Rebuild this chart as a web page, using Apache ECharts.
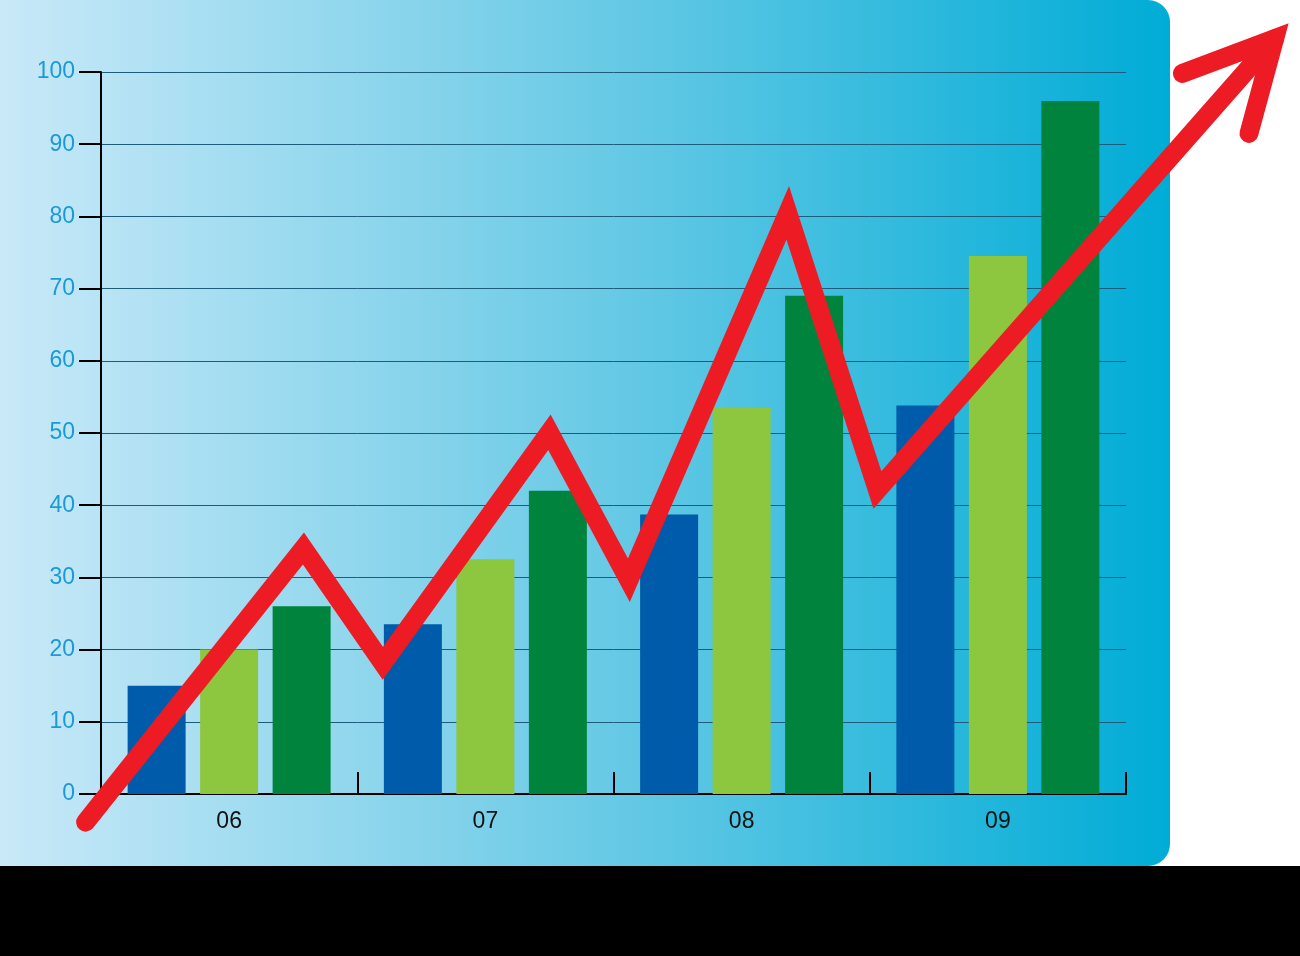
<!DOCTYPE html>
<html><head><meta charset="utf-8">
<script src="https://cdn.jsdelivr.net/npm/echarts@6/dist/echarts.min.js"></script>
<style>html,body{margin:0;padding:0;background:#fff}#c{width:1300px;height:956px}</style>
</head><body><div id="c"></div>
<script>
const categories = ['06','07','08','09'];
const seriesBlue = [15, 23.5, 38.7, 53.8];
const seriesLight = [20, 32.5, 53.5, 74.5];
const seriesDark = [26, 42, 69, 96];
// trend line in [category-unit, value] coordinates
const trendLine = [[-0.06,-3.9],[0.79,34],[1.10,18.1],[1.75,50.1],[2.06,29.6],[2.68,80.5],[3.03,42.1],[4.58,104.6]];
const arrowHead = [[4.22,99.8],[4.58,104.6],[4.48,91.5]];
const yTicks = [0,10,20,30,40,50,60,70,80,90,100];

const chart = echarts.init(document.getElementById('c'));
const barCommon = {type:'bar', barWidth:58, barGap:'25%', xAxisIndex:0, yAxisIndex:0, z:2};
chart.setOption({
  animation:false,
  graphic:[
    {type:'rect', shape:{x:0,y:0,width:1170,height:866,r:[0,22,22,0]}, z:-10,
     style:{fill:new echarts.graphic.LinearGradient(0,0,1,0,[{offset:0,color:'#c9e9f8'},{offset:0.5,color:'#6ccbe6'},{offset:1,color:'#00acd6'}])}},
    {type:'rect', shape:{x:0,y:866,width:1300,height:90}, z:-10, style:{fill:'#000'}}
  ],
  grid:[{left:101, right:174, top:72, bottom:162}, {left:0, right:0, top:0, bottom:0}],
  xAxis:[
    {type:'category', data:categories, gridIndex:0,
     axisLine:{lineStyle:{color:'#000',width:2}},
     axisTick:{show:true,inside:true,length:22,lineStyle:{color:'#000',width:2}},
     axisLabel:{color:'#111',fontSize:23,margin:16,fontFamily:'Liberation Sans'}},
    {type:'value', gridIndex:1, min:-101/256.25, max:1199/256.25, show:false}
  ],
  yAxis:[
    {type:'value', gridIndex:0, min:0, max:100, interval:10,
     axisLine:{show:true,lineStyle:{color:'#000',width:2}},
     axisTick:{show:true,length:22,lineStyle:{color:'#000',width:2}},
     axisLabel:{color:'#1a9ad6',fontSize:23,margin:26,fontFamily:'Liberation Sans',
       formatter:v=>yTicks.includes(v)?String(v):''},
     splitLine:{lineStyle:{color:'#1e5c7e',width:1}}},
    {type:'value', gridIndex:1, min:-162/7.22, max:794/7.22, show:false}
  ],
  series:[
    Object.assign({data:seriesBlue, itemStyle:{color:'#005baa'}}, barCommon),
    Object.assign({data:seriesLight, itemStyle:{color:'#8dc63f'}}, barCommon),
    Object.assign({data:seriesDark, itemStyle:{color:'#00843d'}}, barCommon),
    {type:'line', xAxisIndex:1, yAxisIndex:1, data:trendLine, showSymbol:false, z:5,
     lineStyle:{color:'#ed1c24',width:19,cap:'round',join:'miter'}},
    {type:'line', xAxisIndex:1, yAxisIndex:1, data:arrowHead, showSymbol:false, z:5,
     lineStyle:{color:'#ed1c24',width:19,cap:'round',join:'miter'}}
  ]
});
</script></body></html>
